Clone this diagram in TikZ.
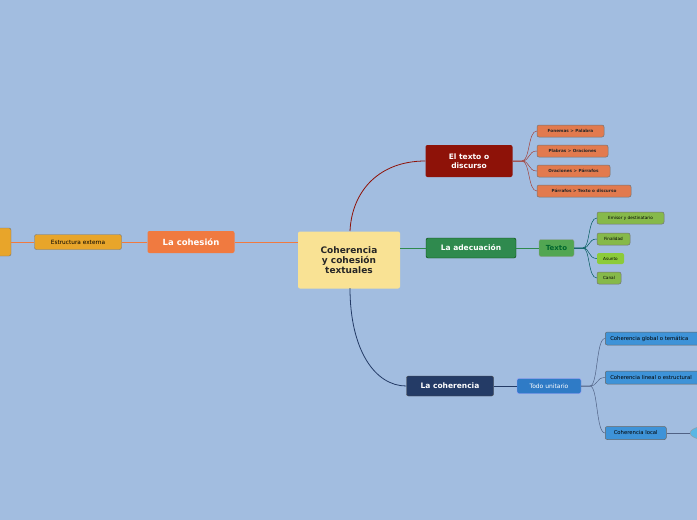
\documentclass[tikz,border=0pt]{standalone}
\usepackage{fontspec}
\setmainfont{DejaVu Sans}
\usetikzlibrary{shapes.geometric}
\definecolor{bg}{HTML}{A2BDE0}
\definecolor{cyel}{HTML}{F9E294}
\definecolor{cred}{HTML}{8E1208}
\definecolor{cgrn}{HTML}{2F8A4E}
\definecolor{cnav}{HTML}{243B66}
\definecolor{cora}{HTML}{F07A40}
\definecolor{cgold}{HTML}{E8A52A}
\definecolor{cleaf}{HTML}{E27A4E}
\definecolor{ctx}{HTML}{52A652}
\definecolor{cgl}{HTML}{86B94A}
\definecolor{cgl2}{HTML}{8CCB3A}
\definecolor{cblu}{HTML}{2F7BC6}
\definecolor{cbl}{HTML}{3E93D8}
\definecolor{cell}{HTML}{5BB6E4}
\begin{document}
\begin{tikzpicture}[x=1pt,y=-1pt,
 box/.style={rounded corners=2pt,inner sep=0pt,align=center},
 small/.style={box,draw=black!55,line width=0.5pt,font=\fontsize{4.2}{5}\selectfont\bfseries,minimum height=12pt},
 smallg/.style={box,draw=black!55,line width=0.5pt,font=\fontsize{4.2}{5}\selectfont,minimum height=12pt},
 smallb/.style={box,draw=black!60,line width=0.5pt,font=\fontsize{5.3}{6}\selectfont,minimum height=13pt,fill=cbl}]
\useasboundingbox (0,0) rectangle (697,520);
\clip (0,0) rectangle (697,520);
\fill[bg] (0,0) rectangle (697,520);
% nodes
\node[box,fill=cyel,minimum width=102pt,minimum height=57pt,font=\fontsize{9}{10}\selectfont\bfseries,text=black!85] (c) at (349,260) {Coherencia\\y cohesión\\textuales};
\node[box,fill=cred,text=white,minimum width=87pt,minimum height=32pt,font=\fontsize{7.5}{8.5}\selectfont\bfseries] (t) at (469,161) {El texto o\\discurso};
\node[box,fill=cgrn,draw=green!25!black,text=white,minimum width=90pt,minimum height=20pt,font=\fontsize{7.5}{8.5}\selectfont\bfseries] (a) at (471,248) {La adecuación};
\node[box,fill=cnav,draw=black!70,text=white,minimum width=87pt,minimum height=20pt,font=\fontsize{7.5}{8.5}\selectfont\bfseries] (co) at (450,386) {La coherencia};
\node[box,fill=cora,text=white,minimum width=87pt,minimum height=22pt,font=\fontsize{8.5}{9.5}\selectfont\bfseries] (ch) at (191,242) {La cohesión};
\node[box,fill=cgold,draw=black!55,minimum width=87pt,minimum height=15pt,font=\fontsize{5.8}{7}\selectfont] (e) at (78,242) {Estructura externa};
\node[box,fill=cgold,draw=black!55,minimum width=40pt,minimum height=28pt] (l) at (-9,242) {};
% orange leaves
\tikzset{ol/.style={small,fill=cleaf,text=black!85}}
\node[ol,minimum width=67pt] (o1) at (570.5,131) {Fonemas > Palabra};
\node[ol,minimum width=71pt] (o2) at (572.5,151) {Plabras > Oraciones};
\node[ol,minimum width=73pt] (o3) at (573.5,171) {Oraciones > Párrafos};
\node[ol,minimum width=94pt] (o4) at (584,191) {Párrafos > Texto o discurso};
% green
\node[box,fill=ctx,draw=black!40,minimum width=35pt,minimum height=17pt,font=\fontsize{7}{8}\selectfont\bfseries,text=blue!30!black!60!green] (tx) at (556.5,248) {Texto};
\tikzset{gl/.style={smallg,fill=cgl}}
\node[gl,minimum width=67pt] (g1) at (630.5,218) {Emisor y destinatario};
\node[gl,minimum width=33pt] (g2) at (613.5,239) {Finalidad};
\node[box,fill=cgl2,minimum width=27pt,minimum height=11pt,font=\fontsize{4.2}{5}\selectfont] (g3) at (610.5,258.5) {Asunto};
\node[gl,minimum width=24pt] (g4) at (609,278) {Canal};
% blue
\node[box,fill=cblu,draw=white!60!blue,text=white,minimum width=64pt,minimum height=15pt,font=\fontsize{6}{7}\selectfont] (tu) at (549,386) {Todo unitario};
\node[smallb,anchor=west,minimum width=100pt,text width=96pt,align=left] (b1) at (605,338.5) {\hspace{3pt}Coherencia global o temática};
\node[smallb,anchor=west,minimum width=100pt,text width=96pt,align=left] (b2) at (605,377.5) {\hspace{3pt}Coherencia lineal o estructural};
\node[smallb,anchor=west,minimum width=61pt] (b3) at (605,433) {Coherencia local};
\node[ellipse,fill=cell,draw=black!40,minimum width=30pt,minimum height=13pt,inner sep=0pt] (el) at (705,433) {};
% connectors
\draw[cred,line width=0.8pt] (350,231) .. controls (352,190) and (380,161) .. (t.west);
\draw[cgrn,line width=0.8pt] (c.east|-a) -- (a.west);
\draw[cnav,line width=0.8pt] (350,288) .. controls (350,350) and (375,386) .. (co.west);
\draw[cora,line width=0.6pt] (c.west|-ch) -- (ch.east);
\draw[cora,line width=0.6pt] (ch.west) -- (e.east);
\draw[cora,line width=0.6pt] (e.west) -- (l.east);
\foreach \n in {o1,o2,o3,o4}
 \draw[cred!80,line width=0.5pt] (t.east) -- (522,161) .. controls (530,161) and (528,0|-\n) .. (\n.west);
\draw[cgrn,line width=0.7pt] (a.east) -- (tx.west);
\foreach \n in {g1,g2,g3,g4}
 \draw[teal!70!black,line width=0.5pt] (tx.east) -- (583,248) .. controls (590,248) and (588,0|-\n) .. (\n.west);
\draw[cnav,line width=0.7pt] (co.east) -- (tu.west);
\foreach \n in {b1,b2,b3}
 \draw[cnav!80,line width=0.5pt] (tu.east) -- (590,386) .. controls (598,386) and (596,0|-\n) .. (\n.west);
\draw[cnav!80,line width=0.5pt] (b3.east) -- (el.west);
\end{tikzpicture}
\end{document}
